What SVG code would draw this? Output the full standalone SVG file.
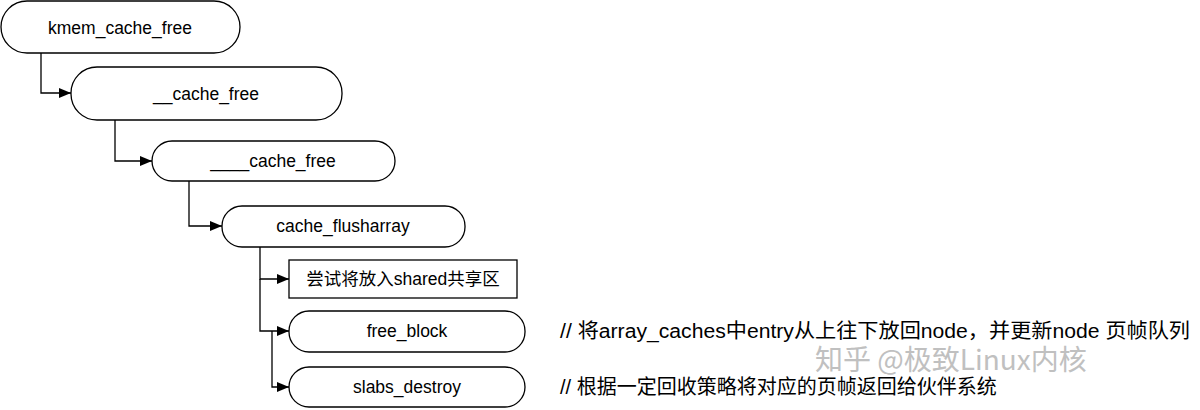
<svg xmlns="http://www.w3.org/2000/svg" width="1200" height="410" viewBox="0 0 1200 410">
<defs>
<marker id="a" markerWidth="12" markerHeight="10" refX="12" refY="5" orient="auto" markerUnits="userSpaceOnUse"><path d="M0,0 L12,5 L0,10 z" fill="#000"/></marker>
<style>
.n{fill:#fff;stroke:#000;stroke-width:1.3}
.t{font-family:"Liberation Sans","Noto Sans CJK SC",sans-serif;font-size:17.5px;text-anchor:middle;dominant-baseline:central;fill:#000}
.c{font-family:"Liberation Sans","Noto Sans CJK SC",sans-serif;font-size:20px;fill:#000;dominant-baseline:central}
.e{fill:none;stroke:#000;stroke-width:1.3;marker-end:url(#a)}
</style>
</defs>
<rect width="1200" height="410" fill="#fff"/>
<g id="connectors">
<path class="e" d="M41,53 V93 H71"/>
<path class="e" d="M115,120 V161 H152"/>
<path class="e" d="M189,181 V226 H222"/>
<path class="e" d="M260,247 V279 H289"/>
<path class="e" d="M260,279 V331 H289"/>
<path class="e" d="M272,331 V387 H289"/>
</g>
<g id="kmem_cache_free"><rect class="n" x="1" y="1" width="239" height="52" rx="26"/><text class="t" x="120" y="28">kmem_cache_free</text></g>
<g id="__cache_free"><rect class="n" x="71" y="67" width="271" height="53" rx="26"/><text class="t" x="206" y="94">__cache_free</text></g>
<g id="____cache_free"><rect class="n" x="152" y="141" width="243" height="40" rx="20"/><text class="t" x="273" y="161">____cache_free</text></g>
<g id="cache_flusharray"><rect class="n" x="222" y="206" width="243" height="41" rx="20"/><text class="t" x="343" y="226">cache_flusharray</text></g>
<g id="shared"><rect class="n" x="289" y="260" width="228" height="38"/><text class="t" x="403" y="279">尝试将放入shared共享区</text></g>
<g id="free_block"><rect class="n" x="289" y="311" width="236" height="41" rx="20"/><text class="t" x="407" y="331">free_block</text></g>
<g id="slabs_destroy"><rect class="n" x="289" y="367" width="236" height="40" rx="20"/><text class="t" x="407" y="387">slabs_destroy</text></g>
<text class="c" x="560" y="331" textLength="630" lengthAdjust="spacingAndGlyphs">// 将array_caches中entry从上往下放回node，并更新node 页帧队列</text>
<text class="c" x="560" y="387">// 根据一定回收策略将对应的页帧返回给伙伴系统</text>
<text x="815" y="358" font-family="Noto Sans CJK SC,sans-serif" font-size="28" fill="#c0c0c0" dominant-baseline="central">知乎 @极致Linux内核</text>
</svg>
